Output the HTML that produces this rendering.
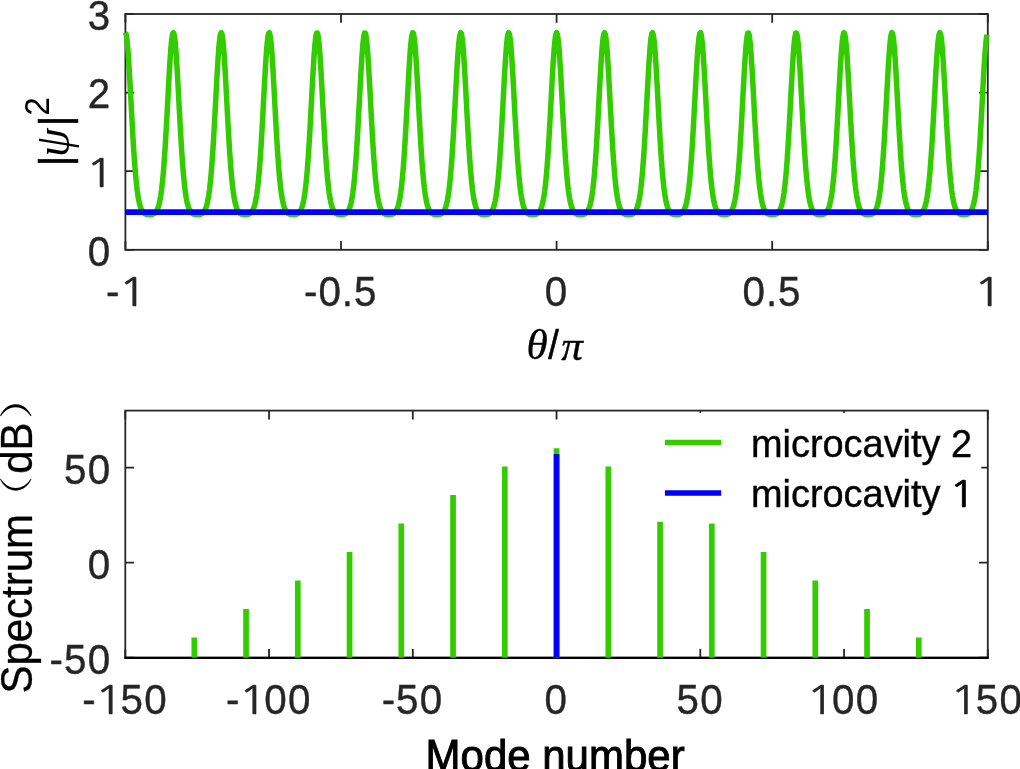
<!DOCTYPE html>
<html><head><meta charset="utf-8"><title>plot</title>
<style>html,body{margin:0;padding:0;background:#fff}svg{display:block}</style></head>
<body>
<svg width="1020" height="769" viewBox="0 0 1020 769">
<rect width="1020" height="769" fill="#fff"/>
<defs><clipPath id="c1"><rect x="121.4" y="14.0" width="870.40" height="235.80"/></clipPath><clipPath id="c2"><rect x="125.3" y="410.6" width="862.50" height="247.10"/></clipPath></defs>
<rect x="125.4" y="14.0" width="862.40" height="235.80" fill="none" stroke="#262626" stroke-width="1.8"/>
<path d="M125.40 249.8 V241.00 M125.40 14.0 V22.80" stroke="#262626" stroke-width="1.8" fill="none"/>
<path d="M341.00 249.8 V241.00 M341.00 14.0 V22.80" stroke="#262626" stroke-width="1.8" fill="none"/>
<path d="M556.60 249.8 V241.00 M556.60 14.0 V22.80" stroke="#262626" stroke-width="1.8" fill="none"/>
<path d="M772.20 249.8 V241.00 M772.20 14.0 V22.80" stroke="#262626" stroke-width="1.8" fill="none"/>
<path d="M987.80 249.8 V241.00 M987.80 14.0 V22.80" stroke="#262626" stroke-width="1.8" fill="none"/>
<path d="M125.4 249.80 H134.20 M987.8 249.80 H979.00" stroke="#262626" stroke-width="1.8" fill="none"/>
<path d="M125.4 171.20 H134.20 M987.8 171.20 H979.00" stroke="#262626" stroke-width="1.8" fill="none"/>
<path d="M125.4 92.60 H134.20 M987.8 92.60 H979.00" stroke="#262626" stroke-width="1.8" fill="none"/>
<path d="M125.4 14.00 H134.20 M987.8 14.00 H979.00" stroke="#262626" stroke-width="1.8" fill="none"/>
<rect x="125.3" y="410.6" width="862.50" height="247.10" fill="none" stroke="#262626" stroke-width="1.8"/>
<path d="M125.30 657.7 V648.90 M125.30 410.6 V419.40" stroke="#262626" stroke-width="1.8" fill="none"/>
<path d="M269.05 657.7 V648.90 M269.05 410.6 V419.40" stroke="#262626" stroke-width="1.8" fill="none"/>
<path d="M412.80 657.7 V648.90 M412.80 410.6 V419.40" stroke="#262626" stroke-width="1.8" fill="none"/>
<path d="M556.55 657.7 V648.90 M556.55 410.6 V419.40" stroke="#262626" stroke-width="1.8" fill="none"/>
<path d="M700.30 657.7 V648.90 M700.30 410.6 V419.40" stroke="#262626" stroke-width="1.8" fill="none"/>
<path d="M844.05 657.7 V648.90 M844.05 410.6 V419.40" stroke="#262626" stroke-width="1.8" fill="none"/>
<path d="M987.80 657.7 V648.90 M987.80 410.6 V419.40" stroke="#262626" stroke-width="1.8" fill="none"/>
<path d="M125.3 657.70 H134.10 M987.8 657.70 H979.00" stroke="#262626" stroke-width="1.8" fill="none"/>
<path d="M125.3 562.66 H134.10 M987.8 562.66 H979.00" stroke="#262626" stroke-width="1.8" fill="none"/>
<path d="M125.3 467.62 H134.10 M987.8 467.62 H979.00" stroke="#262626" stroke-width="1.8" fill="none"/>
<g clip-path="url(#c1)">
<path d="M125.40 32.55 L126.24 34.54 L127.08 40.37 L127.93 49.65 L128.77 61.75 L129.61 75.93 L130.45 91.37 L131.30 107.28 L132.14 122.96 L132.98 137.83 L133.82 151.46 L134.66 163.59 L135.51 174.09 L136.35 182.96 L137.19 190.28 L138.03 196.19 L138.88 200.88 L139.72 204.53 L140.56 207.32 L141.40 209.43 L142.24 211.01 L143.09 212.17 L143.93 213.02 L144.77 213.64 L145.61 214.08 L146.45 214.39 L147.30 214.59 L148.14 214.72 L148.98 214.78 L149.82 214.77 L150.67 214.71 L151.51 214.57 L152.35 214.36 L153.19 214.04 L154.03 213.58 L154.88 212.94 L155.72 212.06 L156.56 210.86 L157.40 209.23 L158.25 207.05 L159.09 204.17 L159.93 200.41 L160.77 195.60 L161.61 189.54 L162.46 182.05 L163.30 173.00 L164.14 162.32 L164.98 150.02 L165.82 136.23 L166.67 121.25 L167.51 105.52 L168.35 89.62 L169.19 74.27 L170.04 60.29 L170.88 48.46 L171.72 39.54 L172.56 34.12 L173.40 32.57 L174.25 35.00 L175.09 41.24 L175.93 50.86 L176.77 63.24 L177.62 77.59 L178.46 93.13 L179.30 109.05 L180.14 124.66 L180.98 139.41 L181.83 152.89 L182.67 164.84 L183.51 175.15 L184.35 183.85 L185.20 191.00 L186.04 196.77 L186.88 201.33 L187.72 204.87 L188.56 207.59 L189.41 209.63 L190.25 211.16 L191.09 212.28 L191.93 213.10 L192.78 213.70 L193.62 214.12 L194.46 214.41 L195.30 214.61 L196.14 214.73 L196.99 214.78 L197.83 214.77 L198.67 214.70 L199.51 214.55 L200.35 214.33 L201.20 213.99 L202.04 213.52 L202.88 212.86 L203.72 211.94 L204.57 210.70 L205.41 209.02 L206.25 206.76 L207.09 203.79 L207.93 199.93 L208.78 194.99 L209.62 188.78 L210.46 181.12 L211.30 171.90 L212.15 161.03 L212.99 148.55 L213.83 134.62 L214.67 119.53 L215.51 103.74 L216.36 87.87 L217.20 72.64 L218.04 58.85 L218.88 47.32 L219.73 38.76 L220.57 33.76 L221.41 32.65 L222.25 35.51 L223.09 42.15 L223.94 52.12 L224.78 64.75 L225.62 79.28 L226.46 94.89 L227.30 110.81 L228.15 126.35 L228.99 140.98 L229.83 154.29 L230.67 166.07 L231.52 176.20 L232.36 184.71 L233.20 191.71 L234.04 197.33 L234.88 201.77 L235.73 205.21 L236.57 207.84 L237.41 209.83 L238.25 211.30 L239.10 212.39 L239.94 213.18 L240.78 213.75 L241.62 214.16 L242.46 214.44 L243.31 214.63 L244.15 214.74 L244.99 214.78 L245.83 214.76 L246.68 214.68 L247.52 214.53 L248.36 214.30 L249.20 213.95 L250.04 213.46 L250.89 212.77 L251.73 211.82 L252.57 210.54 L253.41 208.80 L254.25 206.47 L255.10 203.41 L255.94 199.44 L256.78 194.36 L257.62 188.00 L258.47 180.18 L259.31 170.77 L260.15 159.72 L260.99 147.07 L261.83 132.99 L262.68 117.80 L263.52 101.97 L264.36 86.13 L265.20 71.02 L266.05 57.44 L266.89 46.21 L267.73 38.02 L268.57 33.44 L269.41 32.77 L270.26 36.07 L271.10 43.11 L271.94 53.40 L272.78 66.28 L273.62 80.97 L274.47 96.66 L275.31 112.57 L276.15 128.03 L276.99 142.53 L277.84 155.68 L278.68 167.27 L279.52 177.22 L280.36 185.56 L281.20 192.40 L282.05 197.88 L282.89 202.20 L283.73 205.54 L284.57 208.09 L285.42 210.01 L286.26 211.44 L287.10 212.49 L287.94 213.25 L288.78 213.80 L289.63 214.19 L290.47 214.46 L291.31 214.64 L292.15 214.74 L293.00 214.78 L293.84 214.76 L294.68 214.67 L295.52 214.51 L296.36 214.26 L297.21 213.90 L298.05 213.39 L298.89 212.68 L299.73 211.70 L300.57 210.37 L301.42 208.57 L302.26 206.17 L303.10 203.02 L303.94 198.93 L304.79 193.72 L305.63 187.21 L306.47 179.21 L307.31 169.63 L308.15 158.40 L309.00 145.58 L309.84 131.35 L310.68 116.06 L311.52 100.20 L312.37 84.40 L313.21 69.42 L314.05 56.07 L314.89 45.13 L315.73 37.33 L316.58 33.17 L317.42 32.94 L318.26 36.68 L319.10 44.10 L319.95 54.72 L320.79 67.84 L321.63 82.68 L322.47 98.43 L323.31 114.32 L324.16 129.70 L325.00 144.06 L325.84 157.05 L326.68 168.46 L327.52 178.23 L328.37 186.39 L329.21 193.07 L330.05 198.41 L330.89 202.61 L331.74 205.86 L332.58 208.34 L333.42 210.19 L334.26 211.57 L335.10 212.58 L335.95 213.32 L336.79 213.85 L337.63 214.23 L338.47 214.49 L339.32 214.66 L340.16 214.75 L341.00 214.78 L341.84 214.75 L342.68 214.66 L343.53 214.49 L344.37 214.23 L345.21 213.85 L346.05 213.32 L346.90 212.58 L347.74 211.57 L348.58 210.19 L349.42 208.34 L350.26 205.86 L351.11 202.61 L351.95 198.41 L352.79 193.07 L353.63 186.39 L354.48 178.23 L355.32 168.46 L356.16 157.05 L357.00 144.06 L357.84 129.70 L358.69 114.32 L359.53 98.43 L360.37 82.68 L361.21 67.84 L362.05 54.72 L362.90 44.10 L363.74 36.68 L364.58 32.94 L365.42 33.17 L366.27 37.33 L367.11 45.13 L367.95 56.07 L368.79 69.42 L369.63 84.40 L370.48 100.20 L371.32 116.06 L372.16 131.35 L373.00 145.58 L373.85 158.40 L374.69 169.63 L375.53 179.21 L376.37 187.21 L377.21 193.72 L378.06 198.93 L378.90 203.02 L379.74 206.17 L380.58 208.57 L381.42 210.37 L382.27 211.70 L383.11 212.68 L383.95 213.39 L384.79 213.90 L385.64 214.26 L386.48 214.51 L387.32 214.67 L388.16 214.76 L389.00 214.78 L389.85 214.74 L390.69 214.64 L391.53 214.46 L392.37 214.19 L393.22 213.80 L394.06 213.25 L394.90 212.49 L395.74 211.44 L396.58 210.01 L397.43 208.09 L398.27 205.54 L399.11 202.20 L399.95 197.88 L400.80 192.40 L401.64 185.56 L402.48 177.22 L403.32 167.27 L404.16 155.68 L405.01 142.53 L405.85 128.03 L406.69 112.57 L407.53 96.66 L408.38 80.97 L409.22 66.28 L410.06 53.40 L410.90 43.11 L411.74 36.07 L412.59 32.77 L413.43 33.44 L414.27 38.02 L415.11 46.21 L415.95 57.44 L416.80 71.02 L417.64 86.13 L418.48 101.97 L419.32 117.80 L420.17 132.99 L421.01 147.07 L421.85 159.72 L422.69 170.77 L423.53 180.18 L424.38 188.00 L425.22 194.36 L426.06 199.44 L426.90 203.41 L427.75 206.47 L428.59 208.80 L429.43 210.54 L430.27 211.82 L431.11 212.77 L431.96 213.46 L432.80 213.95 L433.64 214.30 L434.48 214.53 L435.33 214.68 L436.17 214.76 L437.01 214.78 L437.85 214.74 L438.69 214.63 L439.54 214.44 L440.38 214.16 L441.22 213.75 L442.06 213.18 L442.90 212.39 L443.75 211.30 L444.59 209.83 L445.43 207.84 L446.27 205.21 L447.12 201.77 L447.96 197.33 L448.80 191.71 L449.64 184.71 L450.48 176.20 L451.33 166.07 L452.17 154.29 L453.01 140.98 L453.85 126.35 L454.70 110.81 L455.54 94.89 L456.38 79.28 L457.22 64.75 L458.06 52.12 L458.91 42.15 L459.75 35.51 L460.59 32.65 L461.43 33.76 L462.27 38.76 L463.12 47.32 L463.96 58.85 L464.80 72.64 L465.64 87.87 L466.49 103.74 L467.33 119.53 L468.17 134.62 L469.01 148.55 L469.85 161.03 L470.70 171.90 L471.54 181.12 L472.38 188.78 L473.22 194.99 L474.07 199.93 L474.91 203.79 L475.75 206.76 L476.59 209.02 L477.43 210.70 L478.28 211.94 L479.12 212.86 L479.96 213.52 L480.80 213.99 L481.65 214.33 L482.49 214.55 L483.33 214.70 L484.17 214.77 L485.01 214.78 L485.86 214.73 L486.70 214.61 L487.54 214.41 L488.38 214.12 L489.23 213.70 L490.07 213.10 L490.91 212.28 L491.75 211.16 L492.59 209.63 L493.44 207.59 L494.28 204.87 L495.12 201.33 L495.96 196.77 L496.80 191.00 L497.65 183.85 L498.49 175.15 L499.33 164.84 L500.17 152.89 L501.02 139.41 L501.86 124.66 L502.70 109.05 L503.54 93.13 L504.38 77.59 L505.23 63.24 L506.07 50.86 L506.91 41.24 L507.75 35.00 L508.60 32.57 L509.44 34.12 L510.28 39.54 L511.12 48.46 L511.96 60.29 L512.81 74.27 L513.65 89.62 L514.49 105.52 L515.33 121.25 L516.17 136.23 L517.02 150.02 L517.86 162.32 L518.70 173.00 L519.54 182.05 L520.39 189.54 L521.23 195.60 L522.07 200.41 L522.91 204.17 L523.75 207.05 L524.60 209.23 L525.44 210.86 L526.28 212.06 L527.12 212.94 L527.97 213.58 L528.81 214.04 L529.65 214.36 L530.49 214.57 L531.33 214.71 L532.18 214.77 L533.02 214.78 L533.86 214.72 L534.70 214.59 L535.55 214.39 L536.39 214.08 L537.23 213.64 L538.07 213.02 L538.91 212.17 L539.76 211.01 L540.60 209.43 L541.44 207.32 L542.28 204.53 L543.12 200.88 L543.97 196.19 L544.81 190.28 L545.65 182.96 L546.49 174.09 L547.34 163.59 L548.18 151.46 L549.02 137.83 L549.86 122.96 L550.70 107.28 L551.55 91.37 L552.39 75.93 L553.23 61.75 L554.07 49.65 L554.92 40.37 L555.76 34.54 L556.60 32.55 L557.44 34.54 L558.28 40.37 L559.13 49.65 L559.97 61.75 L560.81 75.93 L561.65 91.37 L562.50 107.28 L563.34 122.96 L564.18 137.83 L565.02 151.46 L565.86 163.59 L566.71 174.09 L567.55 182.96 L568.39 190.28 L569.23 196.19 L570.08 200.88 L570.92 204.53 L571.76 207.32 L572.60 209.43 L573.44 211.01 L574.29 212.17 L575.13 213.02 L575.97 213.64 L576.81 214.08 L577.65 214.39 L578.50 214.59 L579.34 214.72 L580.18 214.78 L581.02 214.77 L581.87 214.71 L582.71 214.57 L583.55 214.36 L584.39 214.04 L585.23 213.58 L586.08 212.94 L586.92 212.06 L587.76 210.86 L588.60 209.23 L589.45 207.05 L590.29 204.17 L591.13 200.41 L591.97 195.60 L592.81 189.54 L593.66 182.05 L594.50 173.00 L595.34 162.32 L596.18 150.02 L597.02 136.23 L597.87 121.25 L598.71 105.52 L599.55 89.62 L600.39 74.27 L601.24 60.29 L602.08 48.46 L602.92 39.54 L603.76 34.12 L604.60 32.57 L605.45 35.00 L606.29 41.24 L607.13 50.86 L607.97 63.24 L608.82 77.59 L609.66 93.13 L610.50 109.05 L611.34 124.66 L612.18 139.41 L613.03 152.89 L613.87 164.84 L614.71 175.15 L615.55 183.85 L616.40 191.00 L617.24 196.77 L618.08 201.33 L618.92 204.87 L619.76 207.59 L620.61 209.63 L621.45 211.16 L622.29 212.28 L623.13 213.10 L623.98 213.70 L624.82 214.12 L625.66 214.41 L626.50 214.61 L627.34 214.73 L628.19 214.78 L629.03 214.77 L629.87 214.70 L630.71 214.55 L631.55 214.33 L632.40 213.99 L633.24 213.52 L634.08 212.86 L634.92 211.94 L635.77 210.70 L636.61 209.02 L637.45 206.76 L638.29 203.79 L639.13 199.93 L639.98 194.99 L640.82 188.78 L641.66 181.12 L642.50 171.90 L643.35 161.03 L644.19 148.55 L645.03 134.62 L645.87 119.53 L646.71 103.74 L647.56 87.87 L648.40 72.64 L649.24 58.85 L650.08 47.32 L650.92 38.76 L651.77 33.76 L652.61 32.65 L653.45 35.51 L654.29 42.15 L655.14 52.12 L655.98 64.75 L656.82 79.28 L657.66 94.89 L658.50 110.81 L659.35 126.35 L660.19 140.98 L661.03 154.29 L661.87 166.07 L662.72 176.20 L663.56 184.71 L664.40 191.71 L665.24 197.33 L666.08 201.77 L666.93 205.21 L667.77 207.84 L668.61 209.83 L669.45 211.30 L670.30 212.39 L671.14 213.18 L671.98 213.75 L672.82 214.16 L673.66 214.44 L674.51 214.63 L675.35 214.74 L676.19 214.78 L677.03 214.76 L677.88 214.68 L678.72 214.53 L679.56 214.30 L680.40 213.95 L681.24 213.46 L682.09 212.77 L682.93 211.82 L683.77 210.54 L684.61 208.80 L685.45 206.47 L686.30 203.41 L687.14 199.44 L687.98 194.36 L688.82 188.00 L689.67 180.18 L690.51 170.77 L691.35 159.72 L692.19 147.07 L693.03 132.99 L693.88 117.80 L694.72 101.97 L695.56 86.13 L696.40 71.02 L697.25 57.44 L698.09 46.21 L698.93 38.02 L699.77 33.44 L700.61 32.77 L701.46 36.07 L702.30 43.11 L703.14 53.40 L703.98 66.28 L704.82 80.97 L705.67 96.66 L706.51 112.57 L707.35 128.03 L708.19 142.53 L709.04 155.68 L709.88 167.27 L710.72 177.22 L711.56 185.56 L712.40 192.40 L713.25 197.88 L714.09 202.20 L714.93 205.54 L715.77 208.09 L716.62 210.01 L717.46 211.44 L718.30 212.49 L719.14 213.25 L719.98 213.80 L720.83 214.19 L721.67 214.46 L722.51 214.64 L723.35 214.74 L724.20 214.78 L725.04 214.76 L725.88 214.67 L726.72 214.51 L727.56 214.26 L728.41 213.90 L729.25 213.39 L730.09 212.68 L730.93 211.70 L731.77 210.37 L732.62 208.57 L733.46 206.17 L734.30 203.02 L735.14 198.93 L735.99 193.72 L736.83 187.21 L737.67 179.21 L738.51 169.63 L739.35 158.40 L740.20 145.58 L741.04 131.35 L741.88 116.06 L742.72 100.20 L743.57 84.40 L744.41 69.42 L745.25 56.07 L746.09 45.13 L746.93 37.33 L747.78 33.17 L748.62 32.94 L749.46 36.68 L750.30 44.10 L751.15 54.72 L751.99 67.84 L752.83 82.68 L753.67 98.43 L754.51 114.32 L755.36 129.70 L756.20 144.06 L757.04 157.05 L757.88 168.46 L758.72 178.23 L759.57 186.39 L760.41 193.07 L761.25 198.41 L762.09 202.61 L762.94 205.86 L763.78 208.34 L764.62 210.19 L765.46 211.57 L766.30 212.58 L767.15 213.32 L767.99 213.85 L768.83 214.23 L769.67 214.49 L770.52 214.66 L771.36 214.75 L772.20 214.78 L773.04 214.75 L773.88 214.66 L774.73 214.49 L775.57 214.23 L776.41 213.85 L777.25 213.32 L778.10 212.58 L778.94 211.57 L779.78 210.19 L780.62 208.34 L781.46 205.86 L782.31 202.61 L783.15 198.41 L783.99 193.07 L784.83 186.39 L785.67 178.23 L786.52 168.46 L787.36 157.05 L788.20 144.06 L789.04 129.70 L789.89 114.32 L790.73 98.43 L791.57 82.68 L792.41 67.84 L793.25 54.72 L794.10 44.10 L794.94 36.68 L795.78 32.94 L796.62 33.17 L797.47 37.33 L798.31 45.13 L799.15 56.07 L799.99 69.42 L800.83 84.40 L801.68 100.20 L802.52 116.06 L803.36 131.35 L804.20 145.58 L805.05 158.40 L805.89 169.63 L806.73 179.21 L807.57 187.21 L808.41 193.72 L809.26 198.93 L810.10 203.02 L810.94 206.17 L811.78 208.57 L812.62 210.37 L813.47 211.70 L814.31 212.68 L815.15 213.39 L815.99 213.90 L816.84 214.26 L817.68 214.51 L818.52 214.67 L819.36 214.76 L820.20 214.78 L821.05 214.74 L821.89 214.64 L822.73 214.46 L823.57 214.19 L824.42 213.80 L825.26 213.25 L826.10 212.49 L826.94 211.44 L827.78 210.01 L828.63 208.09 L829.47 205.54 L830.31 202.20 L831.15 197.88 L832.00 192.40 L832.84 185.56 L833.68 177.22 L834.52 167.27 L835.36 155.68 L836.21 142.53 L837.05 128.03 L837.89 112.57 L838.73 96.66 L839.57 80.97 L840.42 66.28 L841.26 53.40 L842.10 43.11 L842.94 36.07 L843.79 32.77 L844.63 33.44 L845.47 38.02 L846.31 46.21 L847.15 57.44 L848.00 71.02 L848.84 86.13 L849.68 101.97 L850.52 117.80 L851.37 132.99 L852.21 147.07 L853.05 159.72 L853.89 170.77 L854.73 180.18 L855.58 188.00 L856.42 194.36 L857.26 199.44 L858.10 203.41 L858.95 206.47 L859.79 208.80 L860.63 210.54 L861.47 211.82 L862.31 212.77 L863.16 213.46 L864.00 213.95 L864.84 214.30 L865.68 214.53 L866.52 214.68 L867.37 214.76 L868.21 214.78 L869.05 214.74 L869.89 214.63 L870.74 214.44 L871.58 214.16 L872.42 213.75 L873.26 213.18 L874.10 212.39 L874.95 211.30 L875.79 209.83 L876.63 207.84 L877.47 205.21 L878.32 201.77 L879.16 197.33 L880.00 191.71 L880.84 184.71 L881.68 176.20 L882.53 166.07 L883.37 154.29 L884.21 140.98 L885.05 126.35 L885.90 110.81 L886.74 94.89 L887.58 79.28 L888.42 64.75 L889.26 52.12 L890.11 42.15 L890.95 35.51 L891.79 32.65 L892.63 33.76 L893.47 38.76 L894.32 47.32 L895.16 58.85 L896.00 72.64 L896.84 87.87 L897.69 103.74 L898.53 119.53 L899.37 134.62 L900.21 148.55 L901.05 161.03 L901.90 171.90 L902.74 181.12 L903.58 188.78 L904.42 194.99 L905.27 199.93 L906.11 203.79 L906.95 206.76 L907.79 209.02 L908.63 210.70 L909.48 211.94 L910.32 212.86 L911.16 213.52 L912.00 213.99 L912.85 214.33 L913.69 214.55 L914.53 214.70 L915.37 214.77 L916.21 214.78 L917.06 214.73 L917.90 214.61 L918.74 214.41 L919.58 214.12 L920.42 213.70 L921.27 213.10 L922.11 212.28 L922.95 211.16 L923.79 209.63 L924.64 207.59 L925.48 204.87 L926.32 201.33 L927.16 196.77 L928.00 191.00 L928.85 183.85 L929.69 175.15 L930.53 164.84 L931.37 152.89 L932.22 139.41 L933.06 124.66 L933.90 109.05 L934.74 93.13 L935.58 77.59 L936.43 63.24 L937.27 50.86 L938.11 41.24 L938.95 35.00 L939.80 32.57 L940.64 34.12 L941.48 39.54 L942.32 48.46 L943.16 60.29 L944.01 74.27 L944.85 89.62 L945.69 105.52 L946.53 121.25 L947.38 136.23 L948.22 150.02 L949.06 162.32 L949.90 173.00 L950.74 182.05 L951.59 189.54 L952.43 195.60 L953.27 200.41 L954.11 204.17 L954.95 207.05 L955.80 209.23 L956.64 210.86 L957.48 212.06 L958.32 212.94 L959.17 213.58 L960.01 214.04 L960.85 214.36 L961.69 214.57 L962.53 214.71 L963.38 214.77 L964.22 214.78 L965.06 214.72 L965.90 214.59 L966.75 214.39 L967.59 214.08 L968.43 213.64 L969.27 213.02 L970.11 212.17 L970.96 211.01 L971.80 209.43 L972.64 207.32 L973.48 204.53 L974.32 200.88 L975.17 196.19 L976.01 190.28 L976.85 182.96 L977.69 174.09 L978.54 163.59 L979.38 151.46 L980.22 137.83 L981.06 122.96 L981.90 107.28 L982.75 91.37 L983.59 75.93 L984.43 61.75 L985.27 49.65 L986.12 40.37 L986.96 34.54" fill="none" stroke="#33cc00" stroke-width="5.5" stroke-linejoin="round" stroke-linecap="butt"/>
<line x1="125.4" y1="212.07" x2="987.8" y2="212.07" stroke="#0000ff" stroke-width="5.7"/>
</g>
<line x1="124.40" y1="657.8000000000001" x2="988.70" y2="657.8000000000001" stroke="#000" stroke-width="2.3"/>
<g clip-path="url(#c2)">
<line x1="194.30" y1="660.7" x2="194.30" y2="637.60" stroke="#33cc00" stroke-width="5.7"/>
<line x1="246.05" y1="660.7" x2="246.05" y2="609.10" stroke="#33cc00" stroke-width="5.7"/>
<line x1="297.80" y1="660.7" x2="297.80" y2="580.60" stroke="#33cc00" stroke-width="5.7"/>
<line x1="349.55" y1="660.7" x2="349.55" y2="552.10" stroke="#33cc00" stroke-width="5.7"/>
<line x1="401.30" y1="660.7" x2="401.30" y2="523.60" stroke="#33cc00" stroke-width="5.7"/>
<line x1="453.05" y1="660.7" x2="453.05" y2="495.10" stroke="#33cc00" stroke-width="5.7"/>
<line x1="504.80" y1="660.7" x2="504.80" y2="466.60" stroke="#33cc00" stroke-width="5.7"/>
<line x1="556.55" y1="660.7" x2="556.55" y2="448.20" stroke="#33cc00" stroke-width="5.7"/>
<line x1="608.30" y1="660.7" x2="608.30" y2="466.60" stroke="#33cc00" stroke-width="5.7"/>
<line x1="660.05" y1="660.7" x2="660.05" y2="521.80" stroke="#33cc00" stroke-width="5.7"/>
<line x1="711.80" y1="660.7" x2="711.80" y2="523.60" stroke="#33cc00" stroke-width="5.7"/>
<line x1="763.55" y1="660.7" x2="763.55" y2="552.10" stroke="#33cc00" stroke-width="5.7"/>
<line x1="815.30" y1="660.7" x2="815.30" y2="580.60" stroke="#33cc00" stroke-width="5.7"/>
<line x1="867.05" y1="660.7" x2="867.05" y2="609.10" stroke="#33cc00" stroke-width="5.7"/>
<line x1="918.80" y1="660.7" x2="918.80" y2="637.60" stroke="#33cc00" stroke-width="5.7"/>
<line x1="556.55" y1="660.7" x2="556.55" y2="453.9" stroke="#0000ff" stroke-width="5.7"/>
</g>
<rect x="656" y="412.9" width="325.3" height="106" fill="#fff"/>
<line x1="664.9" y1="442.5" x2="721.2" y2="442.5" stroke="#33cc00" stroke-width="5.4"/>
<line x1="664.9" y1="493" x2="721.2" y2="493" stroke="#0000ff" stroke-width="5.4"/>
<g><text transform="translate(105.76 305.80) scale(0.947 1.0)" x="0.40" font-family="Liberation Sans, Arial, sans-serif" font-size="42.6" fill="#262626" stroke="#262626" stroke-width="0.4">-</text><text transform="translate(117.99 305.80) scale(1.24 1.012)" font-family="NanumGothic, Liberation Sans, sans-serif" font-size="39.50" fill="#262626" stroke="#262626" stroke-width="0.30">1</text></g>
<g><text transform="translate(303.60 305.80) scale(0.947 1.0)" x="0.40 15.64 40.33 53.16" font-family="Liberation Sans, Arial, sans-serif" font-size="42.6" fill="#262626" stroke="#262626" stroke-width="0.4">-0.5</text></g>
<g><text transform="translate(544.05 305.80) scale(0.947 1.0)" x="0.66" font-family="Liberation Sans, Arial, sans-serif" font-size="42.6" fill="#262626" stroke="#262626" stroke-width="0.4">0</text></g>
<g><text transform="translate(741.89 305.80) scale(0.947 1.0)" x="0.66 25.35 38.18" font-family="Liberation Sans, Arial, sans-serif" font-size="42.6" fill="#262626" stroke="#262626" stroke-width="0.4">0.5</text></g>
<g><text transform="translate(973.29 305.80) scale(1.24 1.012)" font-family="NanumGothic, Liberation Sans, sans-serif" font-size="39.50" fill="#262626" stroke="#262626" stroke-width="0.30">1</text></g>
<g><text transform="translate(87.11 265.60) scale(0.947 1.0)" x="0.66" font-family="Liberation Sans, Arial, sans-serif" font-size="42.6" fill="#262626" stroke="#262626" stroke-width="0.4">0</text></g>
<g><text transform="translate(85.15 187.00) scale(1.24 1.012)" font-family="NanumGothic, Liberation Sans, sans-serif" font-size="39.50" fill="#262626" stroke="#262626" stroke-width="0.30">1</text></g>
<g><text transform="translate(87.11 108.40) scale(0.947 1.0)" x="0.66" font-family="Liberation Sans, Arial, sans-serif" font-size="42.6" fill="#262626" stroke="#262626" stroke-width="0.4">2</text></g>
<g><text transform="translate(87.11 29.80) scale(0.947 1.0)" x="0.66" font-family="Liberation Sans, Arial, sans-serif" font-size="42.6" fill="#262626" stroke="#262626" stroke-width="0.4">3</text></g>
<g><text transform="translate(81.97 713.60) scale(0.947 1.0)" x="0.40" font-family="Liberation Sans, Arial, sans-serif" font-size="42.6" fill="#262626" stroke="#262626" stroke-width="0.4">-</text><text transform="translate(94.20 713.60) scale(1.24 1.012)" font-family="NanumGothic, Liberation Sans, sans-serif" font-size="39.50" fill="#262626" stroke="#262626" stroke-width="0.30">1</text><text transform="translate(119.85 713.60) scale(0.947 1.0)" x="0.66 25.68" font-family="Liberation Sans, Arial, sans-serif" font-size="42.6" fill="#262626" stroke="#262626" stroke-width="0.4">50</text></g>
<g><text transform="translate(225.72 713.60) scale(0.947 1.0)" x="0.40" font-family="Liberation Sans, Arial, sans-serif" font-size="42.6" fill="#262626" stroke="#262626" stroke-width="0.4">-</text><text transform="translate(237.95 713.60) scale(1.24 1.012)" font-family="NanumGothic, Liberation Sans, sans-serif" font-size="39.50" fill="#262626" stroke="#262626" stroke-width="0.30">1</text><text transform="translate(263.60 713.60) scale(0.947 1.0)" x="0.66 25.68" font-family="Liberation Sans, Arial, sans-serif" font-size="42.6" fill="#262626" stroke="#262626" stroke-width="0.4">00</text></g>
<g><text transform="translate(381.31 713.60) scale(0.947 1.0)" x="0.40 15.64 40.66" font-family="Liberation Sans, Arial, sans-serif" font-size="42.6" fill="#262626" stroke="#262626" stroke-width="0.4">-50</text></g>
<g><text transform="translate(544.00 713.60) scale(0.947 1.0)" x="0.66" font-family="Liberation Sans, Arial, sans-serif" font-size="42.6" fill="#262626" stroke="#262626" stroke-width="0.4">0</text></g>
<g><text transform="translate(675.91 713.60) scale(0.947 1.0)" x="0.66 25.68" font-family="Liberation Sans, Arial, sans-serif" font-size="42.6" fill="#262626" stroke="#262626" stroke-width="0.4">50</text></g>
<g><text transform="translate(805.85 713.60) scale(1.24 1.012)" font-family="NanumGothic, Liberation Sans, sans-serif" font-size="39.50" fill="#262626" stroke="#262626" stroke-width="0.30">1</text><text transform="translate(831.50 713.60) scale(0.947 1.0)" x="0.66 25.68" font-family="Liberation Sans, Arial, sans-serif" font-size="42.6" fill="#262626" stroke="#262626" stroke-width="0.4">00</text></g>
<g><text transform="translate(949.60 713.60) scale(1.24 1.012)" font-family="NanumGothic, Liberation Sans, sans-serif" font-size="39.50" fill="#262626" stroke="#262626" stroke-width="0.30">1</text><text transform="translate(975.25 713.60) scale(0.947 1.0)" x="0.66 25.68" font-family="Liberation Sans, Arial, sans-serif" font-size="42.6" fill="#262626" stroke="#262626" stroke-width="0.4">50</text></g>
<g><text transform="translate(49.23 674.30) scale(0.947 1.0)" x="0.40 15.64 40.66" font-family="Liberation Sans, Arial, sans-serif" font-size="42.6" fill="#262626" stroke="#262626" stroke-width="0.4">-50</text></g>
<g><text transform="translate(87.11 579.26) scale(0.947 1.0)" x="0.66" font-family="Liberation Sans, Arial, sans-serif" font-size="42.6" fill="#262626" stroke="#262626" stroke-width="0.4">0</text></g>
<g><text transform="translate(63.42 484.22) scale(0.947 1.0)" x="0.66 25.68" font-family="Liberation Sans, Arial, sans-serif" font-size="42.6" fill="#262626" stroke="#262626" stroke-width="0.4">50</text></g>
<text transform="translate(751.00 456.80)" font-family="Liberation Sans, Arial, sans-serif" font-size="37.9" text-anchor="start" fill="#000" stroke="#000" stroke-width="0.4">microcavity 2</text>
<g><text transform="translate(751.00 507.20)" font-family="Liberation Sans, Arial, sans-serif" font-size="37.9" text-anchor="start" fill="#000" stroke="#000" stroke-width="0.4">microcavity </text><text transform="translate(949.29 507.20) scale(1.24 1.0)" font-family="NanumGothic, Liberation Sans, sans-serif" font-size="35.14" fill="#000" stroke="#000" stroke-width="0.70">1</text></g>
<text transform="translate(555.10 770.60) scale(1.0 1.04)" font-family="Liberation Sans, Arial, sans-serif" font-size="42" text-anchor="middle" fill="#000" stroke="#000" stroke-width="0.9">Mode number</text>
<g><text transform="translate(31.7 693.6) rotate(-90) scale(1 1.04)" font-family="Liberation Sans, Arial, sans-serif" font-size="42" fill="#000" stroke="#000" stroke-width="0.3">Spectrum</text><text transform="translate(28.5 518) rotate(-90) scale(1 0.8)" font-family="Noto Serif CJK SC, Noto Sans CJK SC, serif" font-size="42" fill="#000">（</text><text transform="translate(31.7 473.8) rotate(-90) scale(1 1.04)" font-family="Liberation Sans, Arial, sans-serif" font-size="42" fill="#000" stroke="#000" stroke-width="0.3">dB</text><text transform="translate(28.5 419) rotate(-90) scale(1 0.8)" font-family="Noto Serif CJK SC, Noto Sans CJK SC, serif" font-size="42" fill="#000">）</text></g>
<g><text transform="translate(69.0 166.4) rotate(-90)" font-family="Liberation Sans, Arial, sans-serif" font-size="42.2" fill="#000" stroke="#000" stroke-width="0.5">|</text><text transform="translate(68.8 157.0) rotate(-90) scale(1 1.04)" font-family="Liberation Serif, DejaVu Serif, serif" font-style="italic" font-size="46" fill="#000">ψ</text><text transform="translate(69.0 126.5) rotate(-90)" font-family="Liberation Sans, Arial, sans-serif" font-size="42.2" fill="#000" stroke="#000" stroke-width="0.5">|</text><text transform="translate(49.1 115.8) rotate(-90) scale(1 1.07)" font-family="Liberation Sans, Arial, sans-serif" font-size="33.5" fill="#000">2</text></g>
<g><text transform="translate(526.6 359.2) scale(1.03 1)" font-family="Liberation Serif, DejaVu Serif, serif" font-style="italic" font-size="42" fill="#000" stroke="#000" stroke-width="0.3">θ</text><text transform="translate(548.2 358.8) scale(0.92 1)" font-family="Liberation Sans, Arial, sans-serif" font-size="41.4" fill="#000" stroke="#000" stroke-width="0.6">/</text><text transform="translate(561.2 359.6) scale(1.04 1)" font-family="Liberation Serif, DejaVu Serif, serif" font-style="italic" font-size="41.5" fill="#000" stroke="#000" stroke-width="0.3">π</text></g>
</svg>
</body></html>
